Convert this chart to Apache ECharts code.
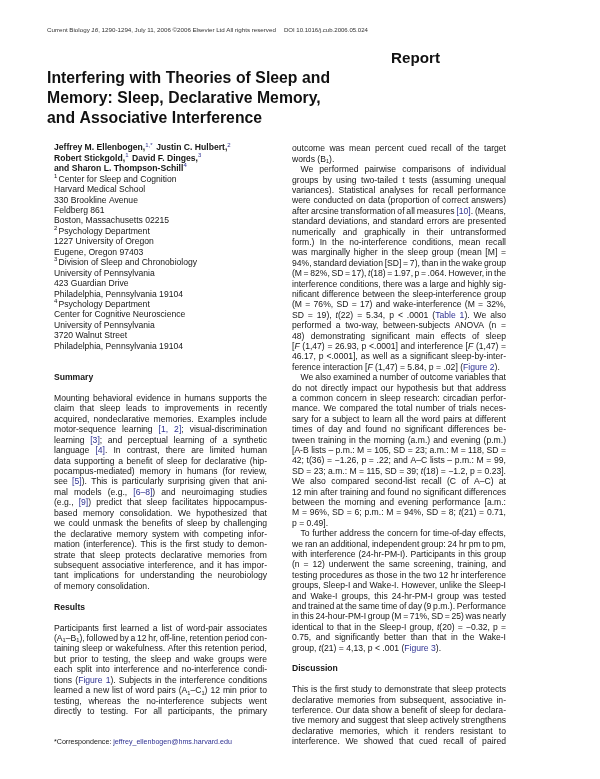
<!DOCTYPE html>
<html><head><meta charset="utf-8">
<script src="https://cdn.jsdelivr.net/npm/echarts@6/dist/echarts.min.js"></script>
<style>html,body{margin:0;padding:0;background:#fff}#c{width:600px;height:779px}</style>
</head><body><div id="c"></div>
<script>
// ---------- content (markup: {b:..} blue link, {i:..} italic, {_:..} subscript, {^:..} superscript, {B^:..} blue superscript)
const headerLeft = "Current Biology {i:16}, 1290-1294, July 11, 2006 ©2006 Elsevier Ltd All rights reserved";
const headerRight = "DOI 10.1016/j.cub.2006.05.024";
const reportLabel = "Report";
const titleLines = [
  "Interfering with Theories of Sleep and",
  "Memory: Sleep, Declarative Memory,",
  "and Associative Interference"
];
const authorLines = [
  "Jeffrey M. Ellenbogen,{B^:1,*} Justin C. Hulbert,{B^:2}",
  "Robert Stickgold,{B^:1} David F. Dinges,{B^:3}",
  "and Sharon L. Thompson-Schill{B^:4}"
];
const affiliationLines = [
  "{^:1}Center for Sleep and Cognition",
  "Harvard Medical School",
  "330 Brookline Avenue",
  "Feldberg 861",
  "Boston, Massachusetts 02215",
  "{^:2}Psychology Department",
  "1227 University of Oregon",
  "Eugene, Oregon 97403",
  "{^:3}Division of Sleep and Chronobiology",
  "University of Pennsylvania",
  "423 Guardian Drive",
  "Philadelphia, Pennsylvania 19104",
  "{^:4}Psychology Department",
  "Center for Cognitive Neuroscience",
  "University of Pennsylvania",
  "3720 Walnut Street",
  "Philadelphia, Pennsylvania 19104"
];
const summaryHeading = "Summary";
const summaryLines = [
  "Mounting behavioral evidence in humans supports the",
  "claim that sleep leads to improvements in recently",
  "acquired, nondeclarative memories. Examples include",
  "motor-sequence learning {b:[1, 2]}; visual-discrimination",
  "learning {b:[3]}; and perceptual learning of a synthetic",
  "language {b:[4]}. In contrast, there are limited human",
  "data supporting a benefit of sleep for declarative (hip-",
  "pocampus-mediated) memory in humans (for review,",
  "see {b:[5]}). This is particularly surprising given that ani-",
  "mal models (e.g., {b:[6–8]}) and neuroimaging studies",
  "(e.g., {b:[9]}) predict that sleep facilitates hippocampus-",
  "based memory consolidation. We hypothesized that",
  "we could unmask the benefits of sleep by challenging",
  "the declarative memory system with competing infor-",
  "mation (interference). This is the first study to demon-",
  "strate that sleep protects declarative memories from",
  "subsequent associative interference, and it has impor-",
  "tant implications for understanding the neurobiology",
  "of memory consolidation.$"
];
const resultsHeading = "Results";
const resultsLines = [
  "Participants first learned a list of word-pair associates",
  "(A{_:1}–B{_:1}), followed by a 12 hr, off-line, retention period con-",
  "taining sleep or wakefulness. After this retention period,",
  "but prior to testing, the sleep and wake groups were",
  "each split into interference and no-interference condi-",
  "tions ({b:Figure 1}). Subjects in the interference conditions",
  "learned a new list of word pairs (A{_:1}–C{_:1}) 12 min prior to",
  "testing, whereas the no-interference subjects went",
  "directly to testing. For all participants, the primary"
];
const rightColumnLines = [
  "outcome was mean percent cued recall of the target",
  "words (B{_:1}).$",
  "  We performed pairwise comparisons of individual",
  "groups by using two-tailed t tests (assuming unequal",
  "variances). Statistical analyses for recall performance",
  "were conducted on data (proportion of correct answers)",
  "after arcsine transformation of all measures {b:[10]}. (Means,",
  "standard deviations, and standard errors are presented",
  "numerically and graphically in their untransformed",
  "form.) In the no-interference conditions, mean recall",
  "was marginally higher in the sleep group (mean [M] =",
  "94%, standard deviation [SD] = 7), than in the wake group",
  "(M = 82%, SD = 17), {i:t}(18) = 1.97, p = .064. However, in the",
  "interference conditions, there was a large and highly sig-",
  "nificant difference between the sleep-interference group",
  "(M = 76%, SD = 17) and wake-interference (M = 32%,",
  "SD = 19), {i:t}(22) = 5.34, p < .0001 ({b:Table 1}). We also",
  "performed a two-way, between-subjects ANOVA (n =",
  "48) demonstrating significant main effects of sleep",
  "[{i:F} (1,47) = 26.93, p <.0001] and interference [{i:F} (1,47) =",
  "46.17, p <.0001], as well as a significant sleep-by-inter-",
  "ference interaction [{i:F} (1,47) = 5.84, p = .02] ({b:Figure 2}).$",
  "  We also examined a number of outcome variables that",
  "do not directly impact our hypothesis but that address",
  "a common concern in sleep research: circadian perfor-",
  "mance. We compared the total number of trials neces-",
  "sary for a subject to learn all the word pairs at different",
  "times of day and found no significant differences be-",
  "tween training in the morning (a.m.) and evening (p.m.)",
  "[A-B lists – p.m.: M = 105, SD = 23; a.m.: M = 118, SD =",
  "42; t(36) = −1.26, p = .22; and A–C lists – p.m.: M = 99,",
  "SD = 23; a.m.: M = 115, SD = 39; {i:t}(18) = −1.2, p = 0.23].",
  "We also compared second-list recall (C of A–C) at",
  "12 min after training and found no significant differences",
  "between the morning and evening performance [a.m.:",
  "M = 96%, SD = 6; p.m.: M = 94%, SD = 8; {i:t}(21) = 0.71,",
  "p = 0.49].$",
  "  To further address the concern for time-of-day effects,",
  "we ran an additional, independent group: 24 hr pm to pm,",
  "with interference (24-hr-PM-I). Participants in this group",
  "(n = 12) underwent the same screening, training, and",
  "testing procedures as those in the two 12 hr interference",
  "groups, Sleep-I and Wake-I. However, unlike the Sleep-I",
  "and Wake-I groups, this 24-hr-PM-I group was tested",
  "and trained at the same time of day (9 p.m.). Performance",
  "in this 24-hour-PM-I group (M = 71%, SD = 25) was nearly",
  "identical to that in the Sleep-I group, {i:t}(20) = −0.32, p =",
  "0.75, and significantly better than that in the Wake-I",
  "group, {i:t}(21) = 4,13, p < .001 ({b:Figure 3}).$",
  "",
  "##Discussion",
  "",
  "This is the first study to demonstrate that sleep protects",
  "declarative memories from subsequent, associative in-",
  "terference. Our data show a benefit of sleep for declara-",
  "tive memory and suggest that sleep actively strengthens",
  "declarative memories, which it renders resistant to",
  "interference. We showed that cued recall of paired"
];
const footnote = "*Correspondence: {b:jeffrey_ellenbogen@hms.harvard.edu}";

// ---------- rendering helpers
const TEXT = '#161616', BLUE = '#2e3192';
const FAM = '"Liberation Sans", Arial, Helvetica, sans-serif';
const cv = document.createElement('canvas').getContext('2d');
function fontOf(size, bold, italic) {
  return (italic ? 'italic ' : '') + (bold ? 'bold ' : '') + size.toFixed(2) + 'px ' + FAM;
}
function parse(s) {
  const re = /\{(b|i|_|\^|B\^):([^}]*)\}/g; const out = []; let last = 0, m;
  while ((m = re.exec(s))) {
    if (m.index > last) out.push({ st: 'n', t: s.slice(last, m.index) });
    out.push({ st: m[1], t: m[2] }); last = re.lastIndex;
  }
  if (last < s.length) out.push({ st: 'n', t: s.slice(last) });
  return out;
}
function pstyle(st, base) {
  let size = base.size, bold = base.bold, italic = !!base.italic, fill = base.fill || TEXT, dy = 0, pad = 0;
  if (st === 'b') fill = BLUE;
  if (st === 'i') italic = true;
  if (st === '_') { size *= 0.66; dy = 0.25 * base.size; bold = false; }
  if (st === '^' || st === 'B^') { size *= 0.7; dy = -0.36 * base.size; bold = false; pad = 1.2; }
  if (st === 'B^') fill = BLUE;
  return { font: fontOf(size, bold, italic), fill, dy, pad };
}
const G = [];
function addText(x, y, text, font, fill, sx) {
  G.push({ type: 'text', x, y, scaleX: sx, silent: true,
    style: { text, font, fill, textAlign: 'left', textVerticalAlign: 'middle' } });
}
function wordsOf(str) {
  const words = []; let cur = [];
  for (const s of parse(str)) {
    s.t.split(' ').forEach((pt, k) => {
      if (k > 0 && cur.length) { words.push(cur); cur = []; }
      if (pt) cur.push({ st: s.st, t: pt });
    });
  }
  if (cur.length) words.push(cur);
  return words;
}
function measureWord(w, base) {
  let tot = 0;
  for (const p of w) {
    p.ps = pstyle(p.st, base); cv.font = p.ps.font;
    p.w = cv.measureText(p.t).width + p.ps.pad; tot += p.w;
  }
  return tot;
}
function layoutLine(str, x0, x1, y, base, justify, fixedK) {
  const words = wordsOf(str);
  const ws = words.map(w => measureWord(w, base));
  const W = ws.reduce((a, b) => a + b, 0);
  cv.font = fontOf(base.size, base.bold, base.italic);
  const sp = cv.measureText(' ').width * (base.spaceK || 1);
  const n = words.length, avail = x1 - x0;
  let k = fixedK || base.track || 1, gap = sp;
  if (justify && n > 1) {
    gap = (avail - W * k) / (n - 1);
    const minGap = base.minGap || 1.5;
    if (gap < minGap) { gap = minGap; k = (avail - minGap * (n - 1)) / W; }
  } else if (!fixedK && W * k + sp * (n - 1) > avail) {
    k = (avail - sp * (n - 1)) / W;
  }
  let x = x0;
  words.forEach((w) => {
    for (const p of w) { addText(x, y + p.ps.dy, p.t, p.ps.font, p.ps.fill, k); x += p.w * k; }
    x += gap;
  });
}
function naturalWidth(str, base) {
  const words = wordsOf(str);
  const W = words.map(w => measureWord(w, base)).reduce((a, b) => a + b, 0);
  cv.font = fontOf(base.size, base.bold, base.italic);
  return W + cv.measureText(' ').width * (base.spaceK || 1) * (words.length - 1);
}
function layoutBlock(lines, x0, x1, y0, lh, base, justify) {
  lines.forEach((raw, i) => {
    if (!raw) return;
    const y = y0 + i * lh;
    let s = raw, b = base, just = justify, xi = x0;
    if (s.startsWith('##')) { s = s.slice(2); b = Object.assign({}, base, { bold: true }); just = false; }
    if (s.startsWith('  ')) { s = s.slice(2); xi = x0 + base.indent; }
    if (s.endsWith('$')) { s = s.slice(0, -1); just = false; }
    layoutLine(s, xi, x1, y, b, just);
  });
}

// ---------- page layout
const body = { size: 8.6, bold: false, fill: TEXT, indent: 8.5, minGap: 1.6, track: 1 };
const bodyBold = Object.assign({}, body, { bold: true });
const LH = 10.44;
const L0 = 54, L1 = 267, R0 = 292, R1 = 506;

// header line
const hBase = { size: 5.6, bold: false, fill: '#333' };
layoutLine(headerLeft, 47, 278, 30, hBase, false, (278 - 47) / naturalWidth(headerLeft, hBase));
layoutLine(headerRight, 284, 368, 30, hBase, false, (368 - 284) / naturalWidth(headerRight, hBase));

// "Report"
const rBase = { size: 15, bold: true, fill: '#111' };
layoutLine(reportLabel, 391, 440, 59, rBase, false, (440 - 391) / naturalWidth(reportLabel, rBase));

// title
const tBase = { size: 16.5, bold: true, fill: '#111' };
const tk = (329 - 47) / naturalWidth(titleLines[0], tBase);
titleLines.forEach((t, i) => layoutLine(t, 47, 500, 78 + i * 20, tBase, false, tk));

// left column
layoutBlock(authorLines, L0, L1 + 20, 148, LH, bodyBold, false);
layoutBlock(affiliationLines, L0, L1 + 20, 148 + 3 * LH, LH, body, false);
layoutBlock(['##' + summaryHeading], L0, L1, 148 + 22 * LH, LH, body, false);
layoutBlock(summaryLines, L0, L1, 148 + 24 * LH, LH, body, true);
layoutBlock(['##' + resultsHeading], L0, L1, 148 + 44 * LH, LH, body, false);
layoutBlock(resultsLines, L0, L1, 148 + 46 * LH, LH, body, true);

// footnote
const fBase = { size: 6.6, bold: false, fill: TEXT };
layoutLine(footnote, L0, 232, 742, fBase, false, (232 - L0) / naturalWidth(footnote, fBase));

// right column
layoutBlock(rightColumnLines, R0, R1, 149, 10.4, body, true);

const chart = echarts.init(document.getElementById('c'), null, { renderer: 'canvas' });
chart.setOption({ backgroundColor: '#fff', animation: false, graphic: { elements: G } });
</script>
</body></html>
